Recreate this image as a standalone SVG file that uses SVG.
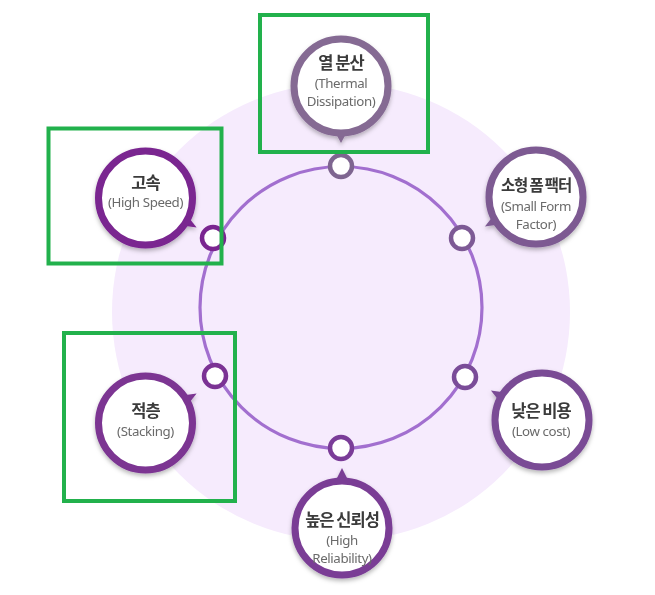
<svg xmlns="http://www.w3.org/2000/svg" width="655" height="595" viewBox="0 0 655 595">
  <defs>
    <filter id="sh" x="-30%" y="-30%" width="160%" height="170%">
      <feDropShadow dx="0" dy="2.5" stdDeviation="2.2" flood-color="#000" flood-opacity="0.28"/>
    </filter>
    <style>
      .bubble { fill: #ffffff; stroke-width: 7; }
      .dot { fill: #ffffff; stroke-width: 4.5; }
      .ko { font-family: "Noto Sans CJK KR", "Noto Sans", sans-serif; font-weight: 700; font-size: 16.5px; fill: #3a3a3a; text-anchor: middle; letter-spacing: -1px; }
      .en { font-family: "Noto Sans", "Noto Sans CJK KR", sans-serif; font-size: 13.3px; fill: #6a6a6a; text-anchor: middle; letter-spacing: -0.4px; }
      .hl { fill: none; stroke: #22b14c; stroke-width: 4; }
    </style>
  </defs>
  <rect width="655" height="595" fill="#ffffff"/>
  <circle cx="341" cy="312" r="229" fill="#f6ebfd"/>

  <g id="connectors">
    <circle cx="341" cy="307.5" r="141" fill="none" stroke="#a26fcf" stroke-width="3.2"/>
    <circle class="dot" cx="341" cy="166" r="11" stroke="#7e6590"/>
    <circle class="dot" cx="462" cy="238" r="11" stroke="#7d5a95"/>
    <circle class="dot" cx="465" cy="377" r="11" stroke="#7a4c98"/>
    <circle class="dot" cx="341" cy="448" r="11" stroke="#7a3c98"/>
    <circle class="dot" cx="215" cy="376" r="11" stroke="#7b3294"/>
    <circle class="dot" cx="213" cy="238" r="11" stroke="#7a2590"/>
  </g>

  <g id="node-thermal" filter="url(#sh)">
    <polygon points="335,132 347,132 341,143" fill="#856a93"/>
    <circle class="bubble" cx="341" cy="86" r="47" stroke="#856a93"/>
    <text class="ko" x="341" y="69">열 분산</text>
    <text class="en" x="341" y="88">(Thermal</text>
    <text class="en" x="341" y="106">Dissipation)</text>
  </g>

  <g id="node-speed" filter="url(#sh)">
    <g transform="translate(145.5,198) rotate(30)">
      <polygon points="44,-6 59,0 44,6" fill="#7a2590"/>
    </g>
    <circle class="bubble" cx="145.5" cy="198" r="47" stroke="#7a2590"/>
    <text class="ko" x="145.5" y="189">고속</text>
    <text class="en" x="145.5" y="207">(High Speed)</text>
  </g>

  <g id="node-sff" filter="url(#sh)">
    <g transform="translate(536,197) rotate(150)">
      <polygon points="44,-6 59,0 44,6" fill="#7d5a92"/>
    </g>
    <circle class="bubble" cx="536" cy="197" r="47" stroke="#7d5a92"/>
    <text class="ko" x="536" y="191" style="font-size:15.5px;letter-spacing:-1.2px">소형 폼 팩터</text>
    <text class="en" x="536" y="211">(Small Form</text>
    <text class="en" x="536" y="229">Factor)</text>
  </g>

  <g id="node-cost" filter="url(#sh)">
    <g transform="translate(542,420) rotate(210)">
      <polygon points="44,-6 59,0 44,6" fill="#7a4c95"/>
    </g>
    <circle class="bubble" cx="542" cy="420" r="47" stroke="#7a4c95"/>
    <text class="ko" x="541" y="417">낮은 비용</text>
    <text class="en" x="541" y="436">(Low cost)</text>
  </g>

  <g id="node-stacking" filter="url(#sh)">
    <g transform="translate(145.5,423) rotate(-30)">
      <polygon points="44,-6 59,0 44,6" fill="#7b3592"/>
    </g>
    <circle class="bubble" cx="145.5" cy="423" r="47" stroke="#7b3592"/>
    <text class="ko" x="145.5" y="417">적층</text>
    <text class="en" x="145.5" y="436">(Stacking)</text>
  </g>

  <g id="node-reliability" filter="url(#sh)">
    <polygon points="336,480 348,480 342,468" fill="#7a3d95"/>
    <circle class="bubble" cx="342" cy="528" r="47" stroke="#7a3d95"/>
    <text class="ko" x="342" y="526">높은 신뢰성</text>
    <text class="en" x="342" y="545">(High</text>
    <text class="en" x="342" y="563">Reliability)</text>
  </g>

  <g id="highlights">
    <rect class="hl" x="260" y="15" width="168" height="137"/>
    <rect class="hl" x="48.5" y="128.5" width="173" height="135"/>
    <rect class="hl" x="64" y="333" width="171" height="168"/>
  </g>
</svg>
